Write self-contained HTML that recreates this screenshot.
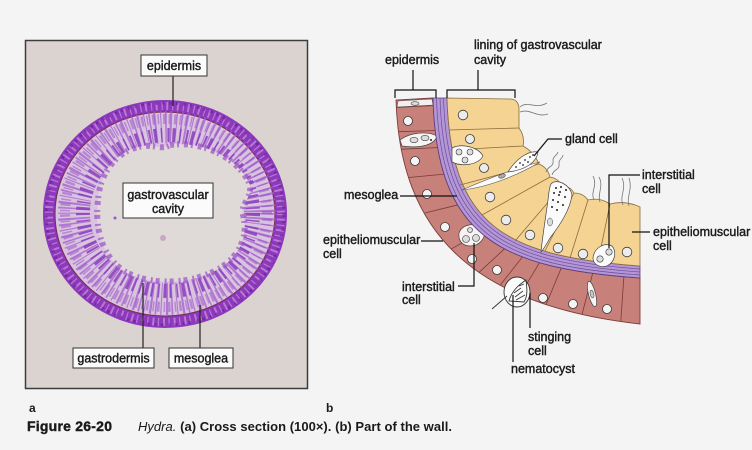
<!DOCTYPE html>
<html><head><meta charset="utf-8">
<style>
html,body{margin:0;padding:0;background:#f4f4f4;}
svg{display:block;}
text{font-family:"Liberation Sans",Arial,sans-serif;fill:#1a1a1a;}
.lb{font-size:12.5px;stroke:#1a1a1a;stroke-width:0.4px;}
</style></head>
<body>
<svg width="752" height="450" viewBox="0 0 752 450" xmlns="http://www.w3.org/2000/svg">
<rect x="0" y="0" width="752" height="450" fill="#f4f4f4"/>

<!-- ===== LEFT PANEL (a) ===== -->
<rect x="25.5" y="40.5" width="282" height="348" fill="#dbd3d0" stroke="#3c3c3c" stroke-width="1.5"/>
<!-- epidermis ring -->
<ellipse cx="165" cy="214" rx="122" ry="114" fill="#8e38bd"/>
<ellipse cx="165" cy="214" rx="116" ry="108" fill="none" stroke="#e4cdef" stroke-width="8" stroke-dasharray="1.2 3.5 2 4" opacity="0.45"/>
<ellipse cx="165" cy="214" rx="119" ry="111" fill="none" stroke="#5e1a8a" stroke-width="3" stroke-dasharray="3 4 2 5" opacity="0.5"/>
<!-- gastrodermis -->
<ellipse cx="165" cy="214" rx="110" ry="102" fill="#d8c4de" stroke="#7a3050" stroke-width="1.1"/>
<ellipse cx="167" cy="213" rx="93" ry="86" fill="none" stroke="#a35ccc" stroke-width="32" stroke-dasharray="1.5 3 2 4 1 3.5" opacity="0.75"/>
<ellipse cx="168" cy="213" rx="85" ry="78" fill="none" stroke="#8a3cbc" stroke-width="14" stroke-dasharray="3 4 1.5 5 2 3" opacity="0.85"/>
<ellipse cx="166" cy="213" rx="101" ry="94" fill="none" stroke="#9d55c8" stroke-width="10" stroke-dasharray="1.5 4 2.5 3" opacity="0.55"/>
<!-- cavity -->
<path d="M170,145 C205,140 240,160 250,185 C252,198 240,205 243,215 C250,240 235,265 205,275 C180,285 140,284 120,268 C100,252 95,225 98,200 C100,170 120,148 145,146 C155,145 162,150 170,145 Z" fill="#dfd9d7" stroke="#9a50c6" stroke-width="6" stroke-dasharray="4 3 2 5" stroke-opacity="0.7"/>
<circle cx="163" cy="238" r="3" fill="#c9a6c8"/>
<circle cx="115" cy="218" r="1.5" fill="#9a58c0"/>
<!-- labels -->
<g stroke="#222" stroke-width="1.2">
<line x1="173" y1="76" x2="173" y2="106"/>
<line x1="143" y1="283" x2="143" y2="348"/>
<line x1="200" y1="305" x2="200" y2="348"/>
</g>
<g fill="#fbfbfb" stroke="#333" stroke-width="1">
<rect x="141" y="55" width="66" height="21"/>
<rect x="123" y="183" width="90" height="35"/>
<rect x="73" y="348" width="81" height="20"/>
<rect x="169" y="348" width="64" height="20"/>
</g>
<text class="lb" x="174" y="70" text-anchor="middle">epidermis</text>
<text class="lb" x="168" y="199" text-anchor="middle">gastrovascular</text>
<text class="lb" x="168" y="213" text-anchor="middle">cavity</text>
<text class="lb" x="113.5" y="362.5" text-anchor="middle">gastrodermis</text>
<text class="lb" x="201" y="362.5" text-anchor="middle">mesoglea</text>

<!-- ===== RIGHT PANEL (b) ===== -->
<!-- epidermis -->
<path d="M396,100 C400,230 470,305 640,324 L640,278 C498,268 437,236 433,98 Z" fill="#c8817a" stroke="#7a3d3a" stroke-width="0.9"/>
<g stroke="#7a3a36" stroke-width="0.8">
<line x1="396.6" y1="107.5" x2="433.6" y2="105.6"/>
<line x1="398.7" y1="131.7" x2="435.5" y2="130.5"/>
<line x1="401.8" y1="149.2" x2="438.2" y2="147.6"/>
<line x1="408.9" y1="177.5" x2="444.4" y2="174.1"/>
<line x1="424.9" y1="213" x2="458.2" y2="204.8"/>
<line x1="451.5" y1="248.8" x2="481.1" y2="232.4"/>
<line x1="479.1" y1="272.3" x2="504.7" y2="248.7"/>
<line x1="500.5" y1="284.8" x2="522.8" y2="256.5"/>
<line x1="520.4" y1="294.6" x2="539.6" y2="262.4"/>
<line x1="546.1" y1="304.5" x2="561.3" y2="267.9"/>
<line x1="582" y1="314.5" x2="592.7" y2="273.2"/>
<line x1="620.8" y1="321" x2="623.9" y2="276.5"/>
</g>
<path d="M398,101 L432,99 L433,105 L397,107 Z" fill="#f4eeee" stroke="#555" stroke-width="0.6"/>
<ellipse cx="415" cy="103.5" rx="4" ry="1.8" fill="#ddd" stroke="#444" stroke-width="0.6"/>
<path d="M400,140 C410,132 428,131 437,136 C435,144 422,149 402,146 Z" fill="#f7f3f3" stroke="#444" stroke-width="0.7"/>
<ellipse cx="414" cy="140" rx="4" ry="2.6" fill="#ddd" stroke="#333" stroke-width="0.6"/>
<ellipse cx="425" cy="138" rx="4" ry="2.6" fill="#ddd" stroke="#333" stroke-width="0.6"/>
<circle cx="431" cy="140" r="1" fill="#222"/>
<path d="M459,233 C462,224 476,222 485,228 C486,238 480,246 470,246 C462,246 458,240 459,233 Z" fill="#f7f3f3" stroke="#444" stroke-width="0.7"/>
<circle cx="466" cy="239" r="3.5" fill="#ddd" stroke="#333" stroke-width="0.6"/>
<circle cx="476" cy="238" r="3.5" fill="#ddd" stroke="#333" stroke-width="0.6"/>
<circle cx="470" cy="230" r="2.5" fill="#ddd" stroke="#333" stroke-width="0.6"/>
<ellipse cx="592" cy="294" rx="3.5" ry="13" transform="rotate(-14 592 294)" fill="#f7f3f3" stroke="#444" stroke-width="0.7"/>
<ellipse cx="592" cy="294" rx="1.8" ry="4" transform="rotate(-14 592 294)" fill="#ccc" stroke="#333" stroke-width="0.5"/>
<g fill="#f4f4f4" stroke="#3a3a3a" stroke-width="0.8">
<circle cx="408" cy="121" r="4.5"/>
<circle cx="415" cy="161" r="4.5"/>
<circle cx="427" cy="194" r="4.5"/>
<circle cx="445" cy="227" r="4.5"/>
<circle cx="472" cy="259" r="4.5"/>
<circle cx="497" cy="270" r="4.5"/>
<circle cx="543" cy="298" r="4.5"/>
<circle cx="573" cy="304" r="4.5"/>
<circle cx="607" cy="309" r="4.5"/>
</g>
<ellipse cx="517" cy="292" rx="13" ry="15" fill="#fbfbfb" stroke="#333" stroke-width="0.9"/>
<path d="M509,301 C512,290 520,284 526,280 C527,288 528,296 524,302 Z" fill="none" stroke="#333" stroke-width="0.9"/>
<path d="M515,297 L523,291 M516,300 L525,295 M514,293 L521,288 M519,286 L524,284" stroke="#333" stroke-width="0.8"/>
<line x1="507" y1="296" x2="492" y2="309" stroke="#333" stroke-width="0.9"/>

<!-- mesoglea -->
<path d="M433,98 C437,236 498,268 640,278 L640,266 C502,256 451,224 447,98 Z" fill="#b397d5" stroke="#5e3c88" stroke-width="0.8"/>
<g fill="none" stroke="#6f4a9e" stroke-width="0.7">
<path d="M436.5,98 C440.5,233 499,265 640,275"/>
<path d="M440,98 C444,230 500,262 640,272"/>
<path d="M443.5,98 C447.5,227 501,259 640,269"/>
</g>

<!-- gastrodermis (yellow) -->
<path d="M447,98 L510,99 Q518,99 519,108 L519,128 Q525,136 523,146 Q534,152 539,164 Q547.5,167.5 550,177 Q558.5,178.5 562,186 Q570,186 574,193 Q583,193 588,200 Q600,197 610,204 Q625,200 640,207 L640,266 C502,256 451,224 447,98 Z" fill="#f4d393" stroke="#8a6a3a" stroke-width="0.8"/>
<g stroke="#8b6b3c" stroke-width="0.8">
<line x1="519" y1="128" x2="449" y2="130"/>
<line x1="523" y1="146" x2="451" y2="150"/>
<line x1="539" y1="164" x2="460" y2="185"/>
<line x1="550" y1="177" x2="482" y2="215"/>
<line x1="562" y1="186" x2="515" y2="241"/>
<line x1="574" y1="193" x2="545" y2="251"/>
<line x1="588" y1="200" x2="570" y2="258"/>
<line x1="610" y1="204" x2="598" y2="262"/>
</g>
<path d="M462,190 C485,180 515,168 540,162 C520,174 490,187 462,190 Z" fill="#fbfbfb" stroke="#555" stroke-width="0.6"/>
<ellipse cx="502" cy="176" rx="3.5" ry="2" transform="rotate(-20 502 176)" fill="#aaa" stroke="#333" stroke-width="0.5"/>
<path d="M452,148 C462,143 478,147 483,156 C478,165 462,167 452,162 Z" fill="#fbfbfb" stroke="#444" stroke-width="0.7"/>
<circle cx="459" cy="152" r="3" fill="#ddd" stroke="#333" stroke-width="0.6"/>
<circle cx="470" cy="152" r="3" fill="#ddd" stroke="#333" stroke-width="0.6"/>
<circle cx="465" cy="160" r="3" fill="#ddd" stroke="#333" stroke-width="0.6"/>
<path d="M508,172 C515,160 528,150 538,152 C537,161 527,170 508,172 Z" fill="#fbfbfb" stroke="#444" stroke-width="0.7"/>
<g fill="#222">
<circle cx="520" cy="163" r="0.9"/><circle cx="525" cy="160" r="0.9"/><circle cx="530" cy="157" r="0.9"/>
<circle cx="516" cy="167" r="0.9"/><circle cx="523" cy="165" r="0.9"/><circle cx="533" cy="155" r="0.9"/>
<circle cx="528" cy="162" r="0.9"/>
</g>
<path d="M551,184 C556,178 570,184 572,195 C570,210 560,225 550,238 C546,245 543,250 541,252 C542,240 546,215 548,200 C549,192 549,188 551,184 Z" fill="#fbfbfb" stroke="#444" stroke-width="0.7"/>
<g fill="#222">
<circle cx="556" cy="188" r="1"/><circle cx="561" cy="187" r="1"/><circle cx="566" cy="190" r="1"/>
<circle cx="554" cy="193" r="1"/><circle cx="559" cy="195" r="1"/><circle cx="565" cy="197" r="1"/>
<circle cx="553" cy="200" r="1"/><circle cx="558" cy="202" r="1"/><circle cx="563" cy="205" r="1"/>
<circle cx="552" cy="207" r="1"/><circle cx="557" cy="210" r="1"/><circle cx="560" cy="192" r="1"/>
</g>
<ellipse cx="550" cy="222" rx="2.5" ry="4" fill="#ddd" stroke="#333" stroke-width="0.5"/>
<path d="M593,258 C594,248 604,242 612,246 C617,252 615,262 607,266 C599,268 593,264 593,258 Z" fill="#fbfbfb" stroke="#444" stroke-width="0.7"/>
<circle cx="600" cy="259" r="3.2" fill="#ddd" stroke="#333" stroke-width="0.6"/>
<circle cx="609" cy="252" r="3.2" fill="#ddd" stroke="#333" stroke-width="0.6"/>
<g fill="#ececec" stroke="#3a3a3a" stroke-width="0.8">
<circle cx="463" cy="115" r="4.8"/>
<circle cx="470" cy="139" r="4.5"/>
<circle cx="484" cy="168" r="4.5"/>
<circle cx="490" cy="197" r="4.8"/>
<circle cx="506" cy="220" r="4.8"/>
<circle cx="530" cy="235" r="4.8"/>
<circle cx="558" cy="248" r="4.8"/>
<circle cx="583" cy="254" r="4.8"/>
<circle cx="627" cy="252" r="4.8"/>
</g>
<g fill="none" stroke="#777" stroke-width="0.8">
<path d="M520,107 C528,100 535,110 547,103"/>
<path d="M520,112 C530,108 537,118 548,114"/>
<path d="M546,172 C548,165 554,168 553,160 C553,156 557,156 558,152"/>
<path d="M552,175 C554,168 560,171 559,163 C559,159 563,158 563,155"/>
<path d="M594,200 C590,192 598,186 593,176"/>
<path d="M600,202 C597,194 604,186 599,177"/>
<path d="M623,205 C619,196 627,189 622,178"/>
<path d="M629,206 C626,197 633,189 629,178"/>
</g>

<g fill="none" stroke="#111" stroke-width="1.2">
<path d="M413,70 L413,90 M395,98 L395,90 L436,90 L436,98"/>
<path d="M478,70 L478,90 M447,98 L447,90 L515,90 L515,98"/>
<path d="M562,139 L548,139 L534,156"/>
<path d="M640,175 L609,175 L609,248"/>
<path d="M632,232 L650,232"/>
<path d="M400,196 L457,196"/>
<path d="M421,241 L443,241"/>
<path d="M458,286 L474,286 L474,243"/>
<path d="M530,293 L530,328"/>
<path d="M513,295 L513,362"/>
</g>

<text class="lb" x="385" y="64">epidermis</text>
<text class="lb" x="474" y="49">lining of gastrovascular</text>
<text class="lb" x="474" y="64">cavity</text>
<text class="lb" x="565" y="143">gland cell</text>
<text class="lb" x="642" y="179">interstitial</text>
<text class="lb" x="642" y="193">cell</text>
<text class="lb" x="653" y="236">epitheliomuscular</text>
<text class="lb" x="653" y="250">cell</text>
<text class="lb" x="344" y="199">mesoglea</text>
<text class="lb" x="323" y="244">epitheliomuscular</text>
<text class="lb" x="323" y="258">cell</text>
<text class="lb" x="402" y="291">interstitial</text>
<text class="lb" x="402" y="304">cell</text>
<text class="lb" x="528" y="341">stinging</text>
<text class="lb" x="528" y="355">cell</text>
<text class="lb" x="511" y="373">nematocyst</text>

<text x="29" y="412" font-size="12" font-weight="bold">a</text>
<text x="326" y="412" font-size="12" font-weight="bold">b</text>
<text x="27" y="431" font-size="14" font-weight="bold" stroke="#1a1a1a" stroke-width="0.4" textLength="85" lengthAdjust="spacing">Figure 26-20</text>
<text x="138" y="431" font-size="13" textLength="314" lengthAdjust="spacing"><tspan font-style="italic">Hydra.</tspan><tspan font-weight="bold"> (a) Cross section (100×). (b) Part of the wall.</tspan></text>
</svg>
</body></html>
